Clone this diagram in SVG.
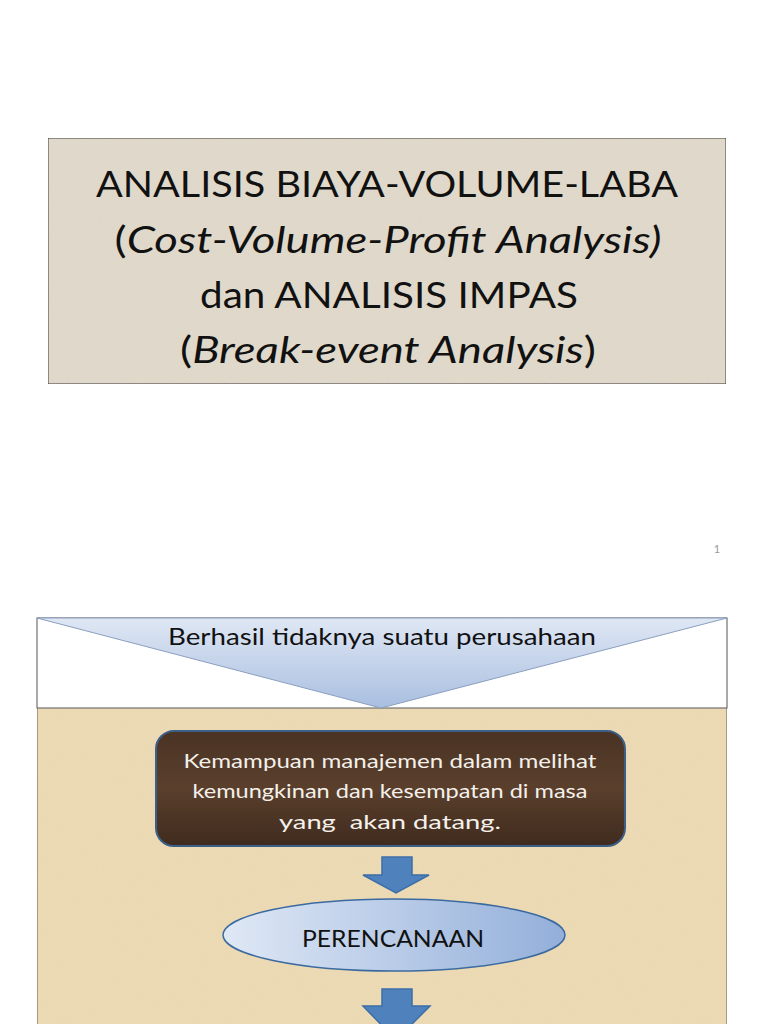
<svg xmlns="http://www.w3.org/2000/svg" width="768" height="1024" viewBox="0 0 768 1024">
<defs>
<style>
.t{font-family:Lato,"Open Sans","Liberation Sans",sans-serif;fill:#111;}
.w{font-family:Lato,"Open Sans","Liberation Sans",sans-serif;fill:#f4f0ea;white-space:pre;}
.arr{fill:#4f81bd;stroke:#3d6ea8;stroke-width:1.5;}
</style>
<linearGradient id="tri" x1="0" y1="0" x2="0" y2="1">
<stop offset="0" stop-color="#dfe7f4"/>
<stop offset="1" stop-color="#a9bfe0"/>
</linearGradient>
<linearGradient id="ell" x1="0" y1="0" x2="1" y2="0">
<stop offset="0" stop-color="#dfe8f5"/>
<stop offset="1" stop-color="#93afda"/>
</linearGradient>
<linearGradient id="wood" x1="0" y1="0" x2="0" y2="1">
<stop offset="0" stop-color="#4a3324"/>
<stop offset="0.5" stop-color="#5a3f2c"/>
<stop offset="1" stop-color="#3f2b1e"/>
</linearGradient>
<filter id="noise" x="0" y="0" width="100%" height="100%">
<feTurbulence type="fractalNoise" baseFrequency="0.8" numOctaves="2" seed="3" result="n"/>
<feColorMatrix type="matrix" values="0 0 0 0 0.5  0 0 0 0 0.45  0 0 0 0 0.35  0 0 0 0.12 0" in="n" result="c"/>
<feComposite in="c" in2="SourceGraphic" operator="in" result="m"/>
<feMerge><feMergeNode in="SourceGraphic"/><feMergeNode in="m"/></feMerge>
</filter>
</defs>
<rect width="768" height="1024" fill="#ffffff"/>

<g id="title-box">
<rect x="48" y="138" width="678" height="246" fill="#e2dbcd" stroke="#333" stroke-width="1" filter="url(#noise)"/>
<text class="t" x="387" y="197" font-size="37" text-anchor="middle" textLength="582" lengthAdjust="spacingAndGlyphs">ANALISIS BIAYA-VOLUME-LABA</text>
<text class="t" x="388" y="253" font-size="37" text-anchor="middle" textLength="547" lengthAdjust="spacingAndGlyphs">(<tspan font-style="italic">Cost-Volume-Profit Analysis)</tspan></text>
<text class="t" x="389" y="308" font-size="37" text-anchor="middle" textLength="378" lengthAdjust="spacingAndGlyphs">dan ANALISIS IMPAS</text>
<text class="t" x="388" y="363" font-size="37" text-anchor="middle" textLength="416" lengthAdjust="spacingAndGlyphs">(<tspan font-style="italic">Break-event Analysis</tspan>)</text>
</g>

<text id="page-number" x="717" y="553" font-family="Lato,'Liberation Sans',sans-serif" font-size="11" fill="#999" text-anchor="middle">1</text>

<g id="slide2-frame">
<rect x="37" y="618" width="690" height="90" fill="#ffffff" stroke="#555" stroke-width="1"/>
<rect x="37" y="708" width="690" height="330" fill="#eedcb6" stroke="#555" stroke-width="1" filter="url(#noise)"/>
</g>

<g id="header-triangle">
<polygon points="37,618 727,618 381,708" fill="url(#tri)" stroke="#8b9fbf" stroke-width="1"/>
<text class="t" x="382" y="645" font-size="24" text-anchor="middle" textLength="428" lengthAdjust="spacingAndGlyphs">Berhasil tidaknya suatu perusahaan</text>
</g>

<g id="ability-box">
<rect x="156" y="731" width="469" height="115" rx="18" ry="18" fill="url(#wood)" stroke="#3c5f88" stroke-width="2"/>
<text class="w" x="390" y="768" font-size="20" text-anchor="middle" textLength="413" lengthAdjust="spacingAndGlyphs">Kemampuan manajemen dalam melihat</text>
<text class="w" x="390" y="798" font-size="20" text-anchor="middle" textLength="395" lengthAdjust="spacingAndGlyphs">kemungkinan dan kesempatan di masa</text>
<text class="w" x="390" y="829" font-size="20" text-anchor="middle" textLength="222" lengthAdjust="spacingAndGlyphs">yang  akan datang.</text>
</g>

<g id="connectors">
<polygon class="arr" points="382,857 412,857 412,875 429,875 396,893 363,875 382,875"/>
<polygon class="arr" points="382,989 412,989 412,1006 430,1006 396,1040 363,1006 382,1006"/>
</g>

<g id="planning">
<ellipse cx="394" cy="935" rx="171" ry="36" fill="url(#ell)" stroke="#3b6aa0" stroke-width="1.5"/>
<text class="t" x="393" y="947" font-size="23" text-anchor="middle" textLength="182" lengthAdjust="spacingAndGlyphs">PERENCANAAN</text>
</g>
</svg>
